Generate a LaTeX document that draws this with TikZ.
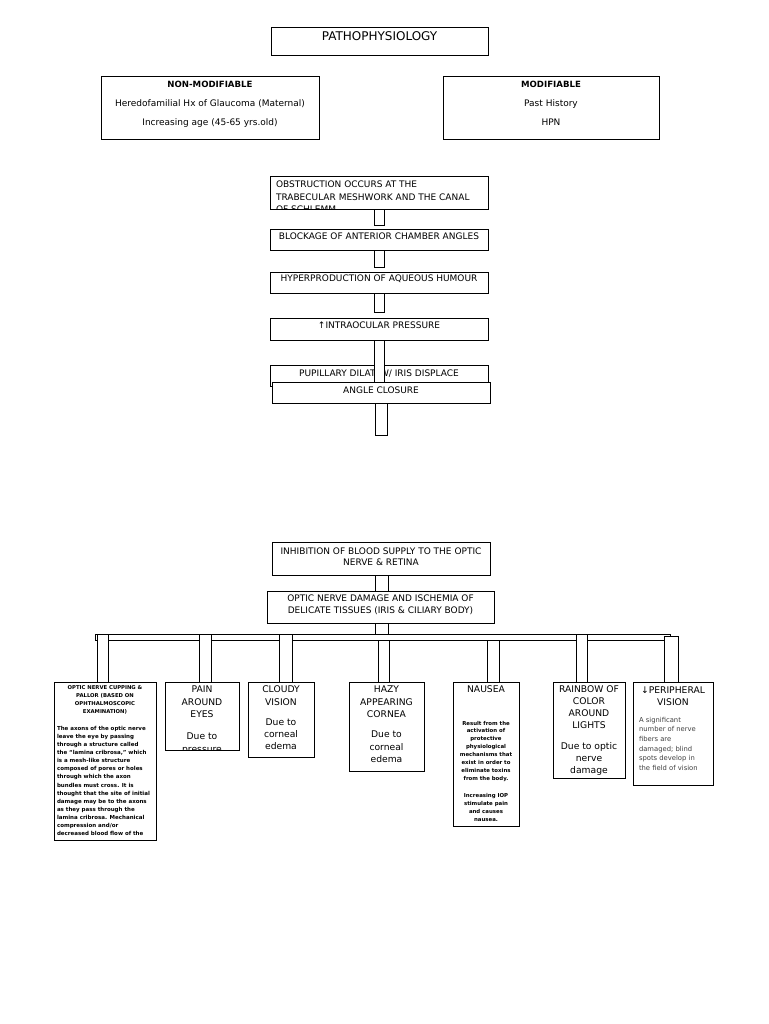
\documentclass[tikz,border=0pt]{standalone}
\usepackage{fontspec}
\setmainfont{DejaVu Sans}
\newcommand\fs[2]{\fontsize{#1}{#2}\selectfont}
\newcommand\F{\rule{0pt}{.8em}}
\newcommand\bx[5]{\node[box, minimum width={#4pt-#2pt}, minimum height={#5pt-#3pt}] (#1) at (#2,#3) {};}
\begin{document}
\begin{tikzpicture}[x=1pt,y=-1pt,
  box/.style={draw=black, line width=0.75pt, fill=white, inner sep=0pt, outer sep=0pt, anchor=north west},
  conn/.style={draw=black, line width=0.7pt, fill=white},
  lbl/.style={inner sep=0pt, outer sep=0pt, anchor=base, font=\fs{9}{11}},
  ml/.style={inner sep=0pt, outer sep=0pt, anchor=north, align=center},
  mlw/.style={inner sep=0pt, outer sep=0pt, anchor=north west, align=left}]
\useasboundingbox[fill=white] (0,0) rectangle (768,1024);

% ---------- top ----------
\bx{patho}{271}{27}{488}{55}
\node[lbl, font=\fs{12}{14}] at (379.5,40.5) {PATHOPHYSIOLOGY};

\bx{nonmod}{101}{76}{319}{139}
\node[lbl, font=\bfseries\fs{8.6}{11}] at (210,87.5) {NON-MODIFIABLE};
\node[lbl] at (210,106.5) {Heredofamilial Hx of Glaucoma (Maternal)};
\node[lbl] at (210,125.5) {Increasing age (45-65 yrs.old)};

\bx{mod}{443}{76}{659}{139}
\node[lbl, font=\bfseries\fs{8.6}{11}] at (551,87.5) {MODIFIABLE};
\node[lbl] at (551,106.5) {Past History};
\node[lbl] at (551,125.5) {HPN};

% ---------- flow ----------
\bx{obs}{270}{176}{488}{209}
\begin{scope}
\clip (obs.north west) rectangle (obs.south east);
\node[mlw, font=\fs{9}{12.6}] at (276,180.3) {\F OBSTRUCTION OCCURS AT THE\\TRABECULAR MESHWORK AND THE CANAL\\OF SCHLEMM};
\end{scope}
\draw[conn] (374,209) rectangle (384,225);

\bx{blk}{270}{229}{488}{250}
\node[lbl] at (379,240) {BLOCKAGE OF ANTERIOR CHAMBER ANGLES};
\draw[conn] (374,250) rectangle (384,267);

\bx{hyp}{270}{272}{488}{293}
\node[lbl] at (379,281) {HYPERPRODUCTION OF AQUEOUS HUMOUR};
\draw[conn] (374,293) rectangle (384,312);

\bx{iop}{270}{318}{488}{340}
\node[lbl] at (379,328.5) {↑INTRAOCULAR PRESSURE};

\bx{pup}{270}{365}{488}{386}
\node[lbl, anchor=base east] at (375.5,376) {PUPILLARY DILAT};
\node[lbl, anchor=base west] at (380,376) {W/ IRIS DISPLACE};
\draw[conn] (374,340) rectangle (384,383);

\bx{ang}{272}{382}{490}{403}
\node[lbl] at (381,393.5) {ANGLE CLOSURE};
\draw[conn] (375,403) rectangle (387,435);

% ---------- lower flow ----------
\bx{inh}{272}{542}{490}{575}
\node[ml, font=\fs{9}{11.7}] at (381,546.8) {\F INHIBITION OF BLOOD SUPPLY TO THE OPTIC\\NERVE \& RETINA};
\draw[conn] (375,575) rectangle (388,591);

\bx{ond}{267}{591}{494}{623}
\node[ml, font=\fs{9}{11.6}] at (380.5,594.5) {\F OPTIC NERVE DAMAGE AND ISCHEMIA OF\\DELICATE TISSUES (IRIS \& CILIARY BODY)};
\draw[conn] (375,623) rectangle (388,634);

% ---------- branch bar ----------
\draw[conn] (95,634) rectangle (670,640);
\draw[conn] (97,634) rectangle (108,682);
\draw[conn] (199,634) rectangle (211,682);
\draw[conn] (279,634) rectangle (292,682);
\draw[conn] (378,640) rectangle (389,682);
\draw[conn] (487,640) rectangle (499,682);
\draw[conn] (576,634) rectangle (587,682);
\draw[conn] (664,636) rectangle (678,682);

% ---------- symptom boxes ----------
\bx{opt}{54}{682}{156}{840}
\node[ml, font=\bfseries\fs{5.3}{8.3}] at (105,684.8) {\F OPTIC NERVE CUPPING \&\\PALLOR (BASED ON\\OPHTHALMOSCOPIC\\EXAMINATION)};
\node[mlw, font=\bfseries\fs{5.5}{8.15}] at (57,725.6) {\F The axons of the optic nerve\\leave the eye by passing\\through a structure called\\the ``lamina cribrosa,'' which\\is a mesh-like structure\\composed of pores or holes\\through which the axon\\bundles must cross. It is\\thought that the site of initial\\damage may be to the axons\\as they pass through the\\lamina cribrosa. Mechanical\\compression and/or\\decreased blood flow of the};

\bx{pain}{165}{682}{239}{750}
\begin{scope}
\clip (pain.north west) rectangle (pain.south east);
\node[ml, font=\fs{9.2}{12.2}] at (202,685.5) {\F PAIN\\AROUND\\EYES\\[10.5pt]Due to\\pressure};
\end{scope}

\bx{cld}{248}{682}{314}{757}
\node[ml, font=\fs{9.2}{12.2}] at (281,685.5) {\F CLOUDY\\VISION\\[7.8pt]Due to\\corneal\\edema};

\bx{hazy}{349}{682}{424}{771}
\node[ml, font=\fs{9.2}{12.2}] at (386.5,685.5) {\F HAZY\\APPEARING\\CORNEA\\[8.4pt]Due to\\corneal\\edema};

\bx{nau}{453}{682}{519}{826}
\node[lbl, font=\fs{9.2}{11}] at (486,692.7) {NAUSEA};
\node[ml, font=\bfseries\fs{5.4}{7.9}] at (486,720.7) {\F Result from the\\activation of\\protective\\physiological\\mechanisms that\\exist in order to\\eliminate toxins\\from the body.\\[9.5pt]Increasing IOP\\stimulate pain\\and causes\\nausea.};

\bx{rnb}{553}{682}{625}{778}
\node[ml, font=\fs{9.2}{11.8}] at (589,685.5) {\F RAINBOW OF\\COLOR\\AROUND\\LIGHTS\\[9.6pt]Due to optic\\nerve\\damage};

\bx{per}{633}{682}{713}{785}
\node[ml, font=\fs{9.2}{12}] at (673,685.8) {\F ↓PERIPHERAL\\VISION};
\node[mlw, font=\fs{6.8}{9.7}, text=black!75] at (639,716.6) {\F A significant\\number of nerve\\fibers are\\damaged; blind\\spots develop in\\the field of vision};
\end{tikzpicture}
\end{document}
